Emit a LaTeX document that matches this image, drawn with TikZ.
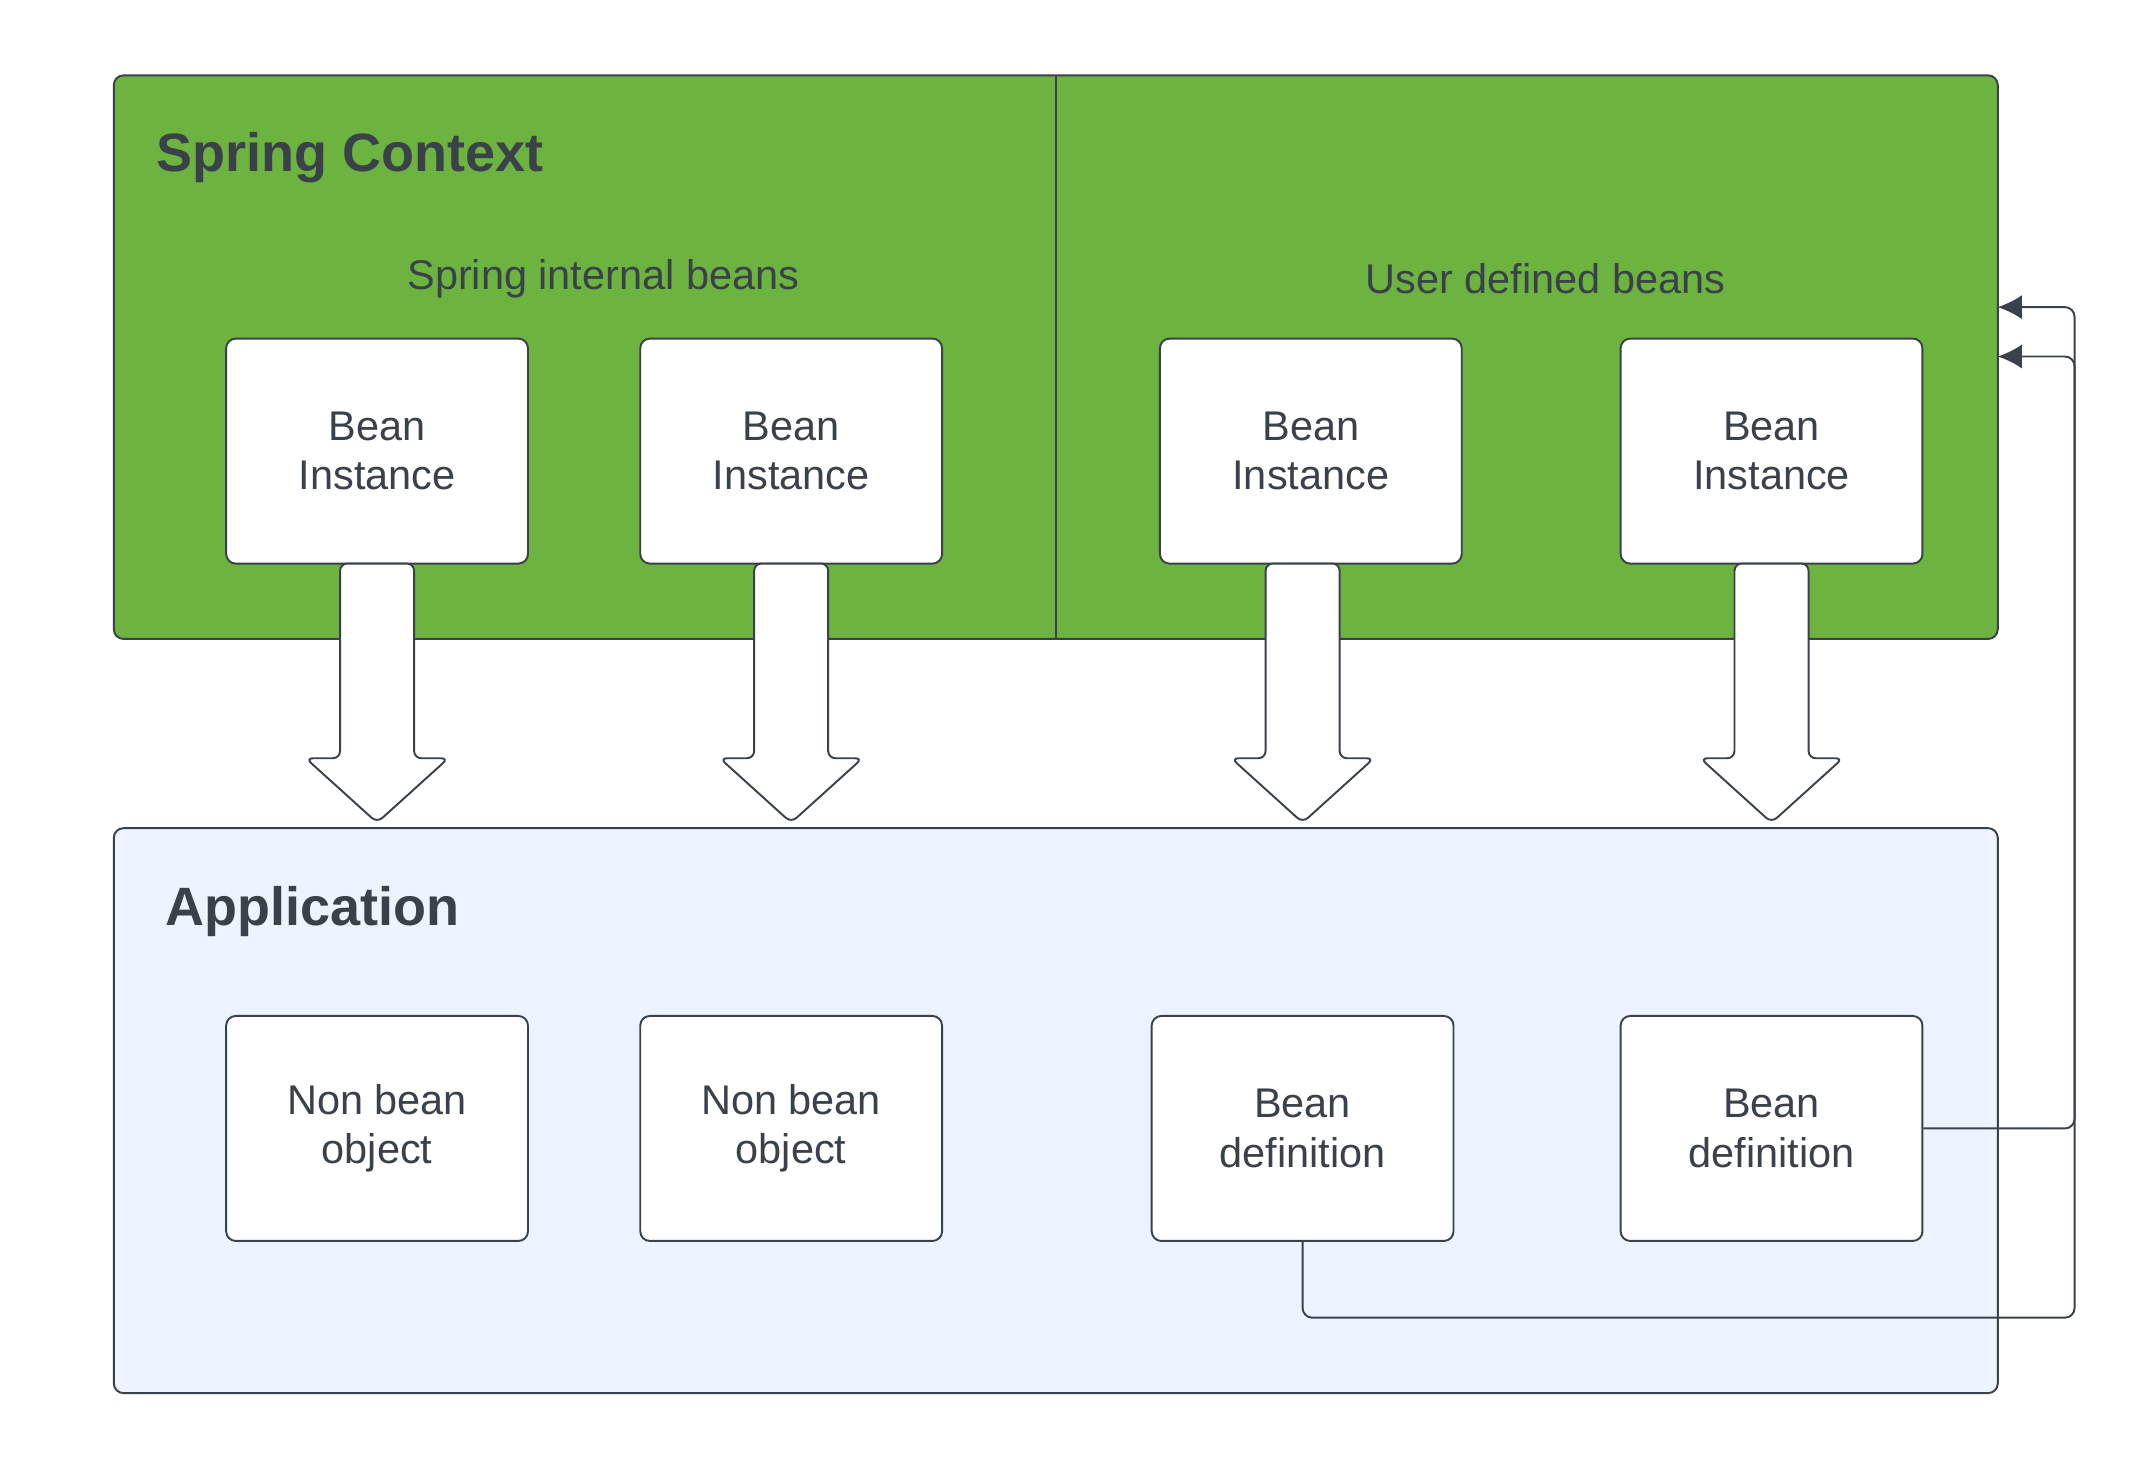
\documentclass[tikz,border=0pt]{standalone}
\usepackage{fontspec}
\setmainfont{Liberation Sans}
\usepackage{tikz}
\usetikzlibrary{calc}
\usetikzlibrary{arrows.meta}
\definecolor{ink}{HTML}{3A414A}
\definecolor{springgreen}{HTML}{6DB33F}
\definecolor{appblue}{HTML}{EDF4FF}
\begin{document}
\begin{tikzpicture}[x=0.01cm,y=-0.01cm,
        box/.style={draw=ink, fill=white, rounded corners=2pt, minimum width=2.2cm, minimum height=1.64cm, align=center, text=ink, font=\fontsize{8.6}{10.2}\selectfont},
        title/.style={anchor=west, text=ink, font=\fontsize{11.2}{13}\selectfont\bfseries},
        sub/.style={text=ink, font=\fontsize{8.6}{10}\selectfont},
        link/.style={draw=ink, rounded corners=2pt, -{Latex[length=5pt,width=5pt]}}]
        \useasboundingbox (0,0) rectangle (1560,1067);

        % containers
        \draw[ink, fill=springgreen, rounded corners=2pt] (83,55) rectangle (1457,466);
        \draw[ink] (770,55) -- (770,466);
        \draw[ink, fill=appblue, rounded corners=2pt] (83,604) rectangle (1457,1016);

        \node[title] (ctx) at (102,115) {Spring Context};
        \node[title] (app) at (108,665) {Application};
        \node[sub] (internal) at (440,203) {Spring internal beans};
        \node[sub] (user) at (1127,203) {User defined beans};

        % bean instances
        \node[box] (bi1) at (275,329) {Bean\\Instance};
        \node[box] (bi2) at (577,329) {Bean\\Instance};
        \node[box] (bi3) at (956,329) {Bean\\Instance};
        \node[box] (bi4) at (1292,329) {Bean\\Instance};

        % application objects
        \node[box] (nb1) at (275,823) {Non bean\\object};
        \node[box] (nb2) at (577,823) {Non bean\\object};
        \node[box] (bd1) at (950,823) {Bean\\definition};
        \node[box] (bd2) at (1292,823) {Bean\\definition};

        % block arrows
        \foreach \c/\s in {275/bi1, 577/bi2, 950/bi3, 1292/bi4}
            \draw[ink, fill=white, rounded corners=1.5pt]
                (\c-27,411) -- (\c+27,411) -- (\c+27,553) -- (\c+52,553)
                -- (\c,600) -- (\c-52,553) -- (\c-27,553) -- cycle;

        % definitions register in context
        \coordinate (in1) at (1457,224);
        \coordinate (in2) at (1457,260);
        \draw[link] (bd2.east) -- (1513,823) |- (in2);
        \draw[link] (bd1.south) |- (1513,961) |- (in1);
    \end{tikzpicture}
\end{document}
